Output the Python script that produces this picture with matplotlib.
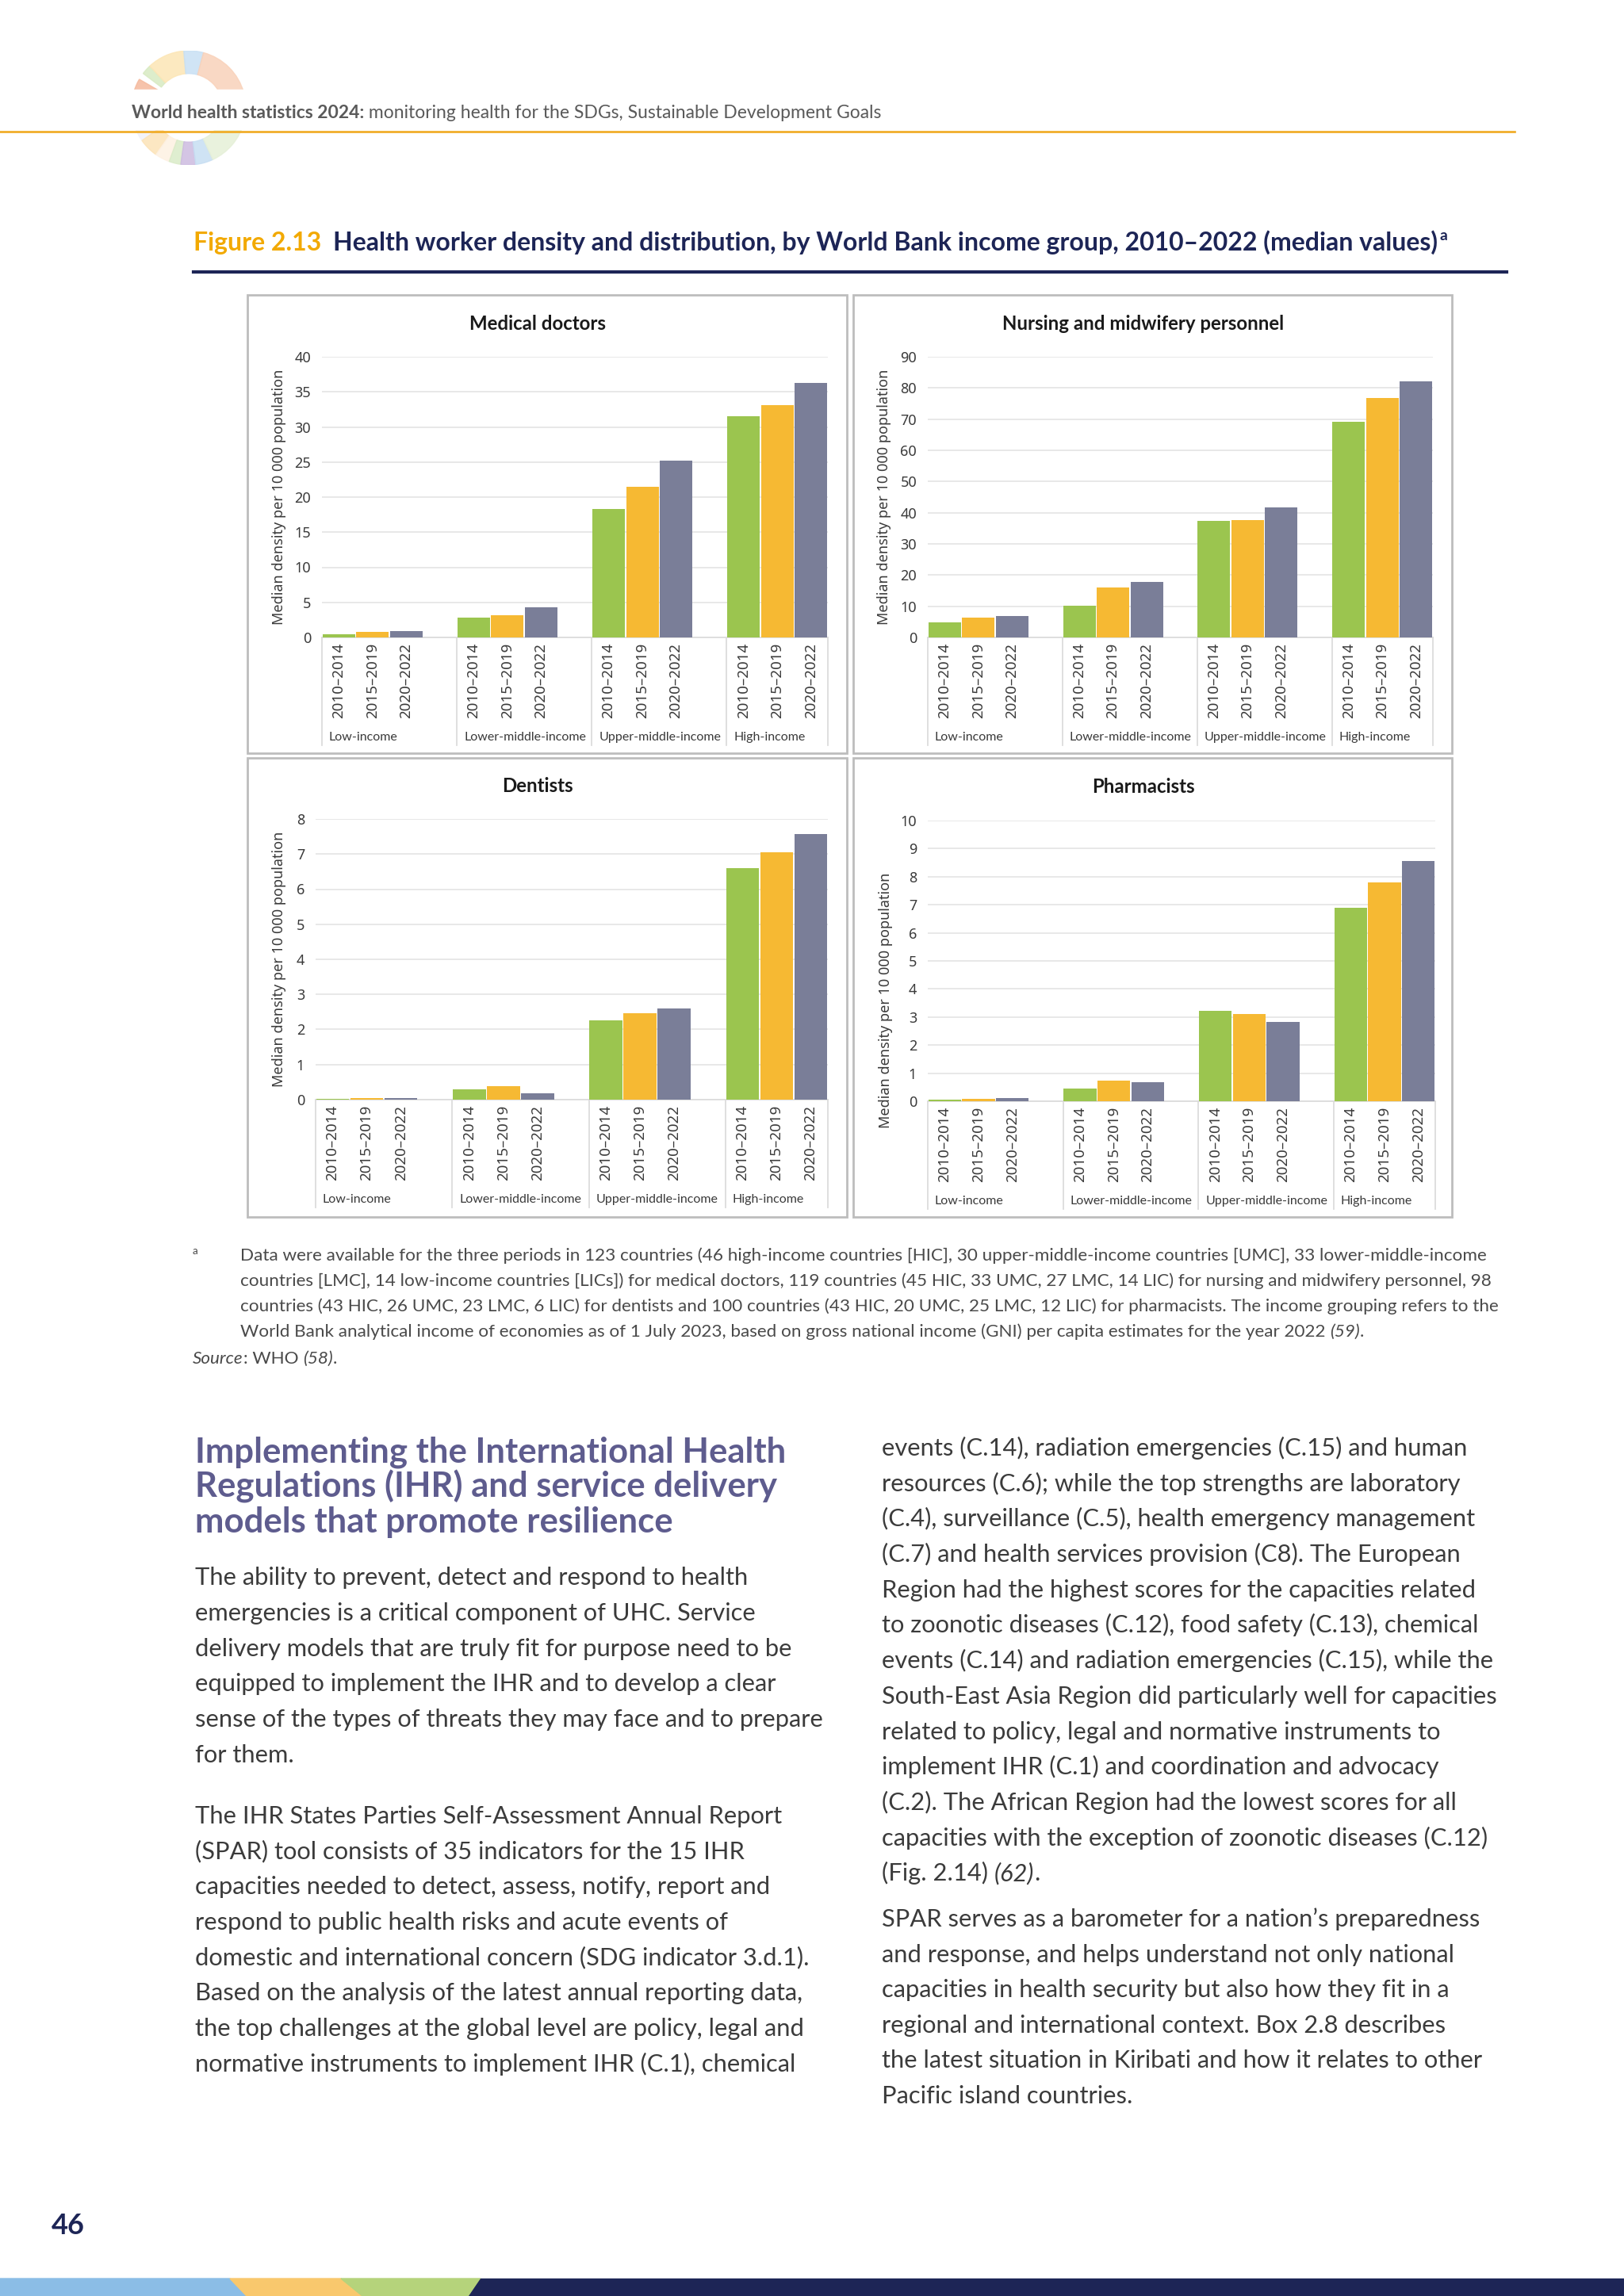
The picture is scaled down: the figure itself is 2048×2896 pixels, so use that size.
import numpy as np
import matplotlib.pyplot as plt
import matplotlib.transforms as mtransforms
from matplotlib.patches import Rectangle, Wedge, Polygon
from matplotlib.lines import Line2D

plt.rcParams["font.family"] = ["Lato", "DejaVu Sans"]
plt.rcParams["xtick.labelsize"] = 13.5
plt.rcParams["ytick.labelsize"] = 13

W, H = 2048, 2896

# ---- chart data (median density per 10 000 population) ----
periods = ["2010–2014", "2015–2019", "2020–2022"]
groups = ["Low-income", "Lower-middle-income", "Upper-middle-income", "High-income"]
period_colors = ["#9BC54F", "#F6B933", "#7A7E98"]

doctors_2010_2014 = [0.43, 2.8, 18.25, 31.5]
doctors_2015_2019 = [0.74, 3.15, 21.5, 33.1]
doctors_2020_2022 = [0.91, 4.3, 25.2, 36.3]

nurses_2010_2014 = [4.9, 10.2, 37.5, 69.1]
nurses_2015_2019 = [6.3, 16.0, 37.6, 76.8]
nurses_2020_2022 = [6.8, 17.7, 41.6, 82.2]

dentists_2010_2014 = [0.02, 0.30, 2.26, 6.6]
dentists_2015_2019 = [0.05, 0.39, 2.47, 7.06]
dentists_2020_2022 = [0.035, 0.19, 2.6, 7.58]

pharmacists_2010_2014 = [0.05, 0.45, 3.22, 6.9]
pharmacists_2015_2019 = [0.08, 0.73, 3.10, 7.79]
pharmacists_2020_2022 = [0.11, 0.69, 2.83, 8.56]

ylabel = "Median density per 10 000 population"

# ---- page text ----
header_bold = "World health statistics 2024:"
header_rest = " monitoring health for the SDGs, Sustainable Development Goals"
fig_label = "Figure 2.13"
fig_title = "Health worker density and distribution, by World Bank income group, 2010–2022 (median values)"

foot_lines = [
    "Data were available for the three periods in 123 countries (46 high-income countries [HIC], 30 upper-middle-income countries [UMC], 33 lower-middle-income",
    "countries [LMC], 14 low-income countries [LICs]) for medical doctors, 119 countries (45 HIC, 33 UMC, 27 LMC, 14 LIC) for nursing and midwifery personnel, 98",
    "countries (43 HIC, 26 UMC, 23 LMC, 6 LIC) for dentists and 100 countries (43 HIC, 20 UMC, 25 LMC, 12 LIC) for pharmacists. The income grouping refers to the",
    [("World Bank analytical income of economies as of 1 July 2023, based on gross national income (GNI) per capita estimates for the year 2022 ", {}),
     ("(59)", {"style": "italic"}), (".", {})],
]
source_line = [("Source", {"style": "italic"}), (": WHO ", {}), ("(58)", {"style": "italic"}), (".", {})]

heading_lines = ["Implementing the International Health",
                 "Regulations (IHR) and service delivery",
                 "models that promote resilience"]
left_para1 = ["The ability to prevent, detect and respond to health",
              "emergencies is a critical component of UHC. Service",
              "delivery models that are truly fit for purpose need to be",
              "equipped to implement the IHR and to develop a clear",
              "sense of the types of threats they may face and to prepare",
              "for them."]
left_para2 = ["The IHR States Parties Self-Assessment Annual Report",
              "(SPAR) tool consists of 35 indicators for the 15 IHR",
              "capacities needed to detect, assess, notify, report and",
              "respond to public health risks and acute events of",
              "domestic and international concern (SDG indicator 3.d.1).",
              "Based on the analysis of the latest annual reporting data,",
              "the top challenges at the global level are policy, legal and",
              "normative instruments to implement IHR (C.1), chemical"]
right_para1 = ["events (C.14), radiation emergencies (C.15) and human",
               "resources (C.6); while the top strengths are laboratory",
               "(C.4), surveillance (C.5), health emergency management",
               "(C.7) and health services provision (C8). The European",
               "Region had the highest scores for the capacities related",
               "to zoonotic diseases (C.12), food safety (C.13), chemical",
               "events (C.14) and radiation emergencies (C.15), while the",
               "South-East Asia Region did particularly well for capacities",
               "related to policy, legal and normative instruments to",
               "implement IHR (C.1) and coordination and advocacy",
               "(C.2). The African Region had the lowest scores for all",
               "capacities with the exception of zoonotic diseases (C.12)",
               [("(Fig. 2.14) ", {}), ("(62)", {"style": "italic"}), (".", {})]]
right_para2 = ["SPAR serves as a barometer for a nation’s preparedness",
               "and response, and helps understand not only national",
               "capacities in health security but also how they fit in a",
               "regional and international context. Box 2.8 describes",
               "the latest situation in Kiribati and how it relates to other",
               "Pacific island countries."]

navy = "#1D2556"
orange = "#F2A900"

fig = plt.figure(figsize=(W / 100, H / 100), dpi=100)
renderer = fig.canvas.get_renderer()


def fx(x):
    return x / W


def fy(y):
    return 1 - y / H


def text_width(s, **kw):
    # advance width in pixels, trailing spaces included
    t = fig.text(0, 0, s + "|", **kw)
    ref = fig.text(0, 0, "|", **kw)
    w = t.get_window_extent(renderer).width - ref.get_window_extent(renderer).width
    t.remove()
    ref.remove()
    return w


def put_line(x, y, parts, **kw):
    if isinstance(parts, str):
        parts = [(parts, {})]
    for s, style in parts:
        props = {**kw, **style}
        fig.text(fx(x), fy(y), s, ha="left", va="baseline", **props)
        x += text_width(s, **props)


def put_block(x, y0, dy, lines, **kw):
    for i, line in enumerate(lines):
        put_line(x, y0 + i * dy, line, **kw)


# ---- header wheel + running title ----
ax_w = fig.add_axes([fx(166), fy(208), 144 / W, 144 / H])
ax_w.set_xlim(-1, 1)
ax_w.set_ylim(-1, 1)
ax_w.axis("off")
wheel = [(165, 173, "#BDBDBD"), (150, 165, "#F5B99C"), (133, 143, "#D8EAC2"),
         (95, 133, "#FCE6B5"), (75, 95, "#C8E0F4"), (15, 75, "#F9D2BA"),
         (188, 200, "#E9A5BE"), (200, 215, "#F1F2F8"), (215, 235, "#FCE3B8"),
         (235, 250, "#FDF1E2"), (250, 262, "#DAEBC8"), (262, 277, "#CDBBE0"),
         (277, 295, "#C7DEF3"), (295, 345, "#E6F0D8")]
for t1, t2, c in wheel:
    ax_w.add_patch(Wedge((0, 0), 1.0, t1, t2, width=0.4, color=c, alpha=0.85))
fig.add_artist(Rectangle((fx(150), fy(163)), 200 / W, 50 / H, transform=fig.transFigure,
                         color="white", zorder=5))

w20 = text_width(header_bold, fontsize=20, weight="bold") + text_width(header_rest, fontsize=20)
hs = 20 * 947 / w20
put_line(166, 149, [(header_bold, {"weight": "bold"}), (header_rest, {})],
         fontsize=hs, color="#5A5A5A", zorder=6)
fig.add_artist(Line2D([0, fx(1910)], [fy(166), fy(166)], color="#F0AA22", lw=1.9,
                      transform=fig.transFigure, zorder=6))

# ---- figure title ----
ts = 20 * 1395 / text_width(fig_title, fontsize=20, weight="bold")
fig.text(fx(244), fy(316), fig_label, fontsize=ts, weight="bold", color=orange, va="baseline")
fig.text(fx(420), fy(316), fig_title, fontsize=ts, weight="bold", color=navy, va="baseline")
tw = text_width(fig_title, fontsize=ts, weight="bold")
fig.text(fx(420 + tw + 2), fy(316 - 13), "a", fontsize=ts * 0.6, weight="bold", color=navy, va="baseline")
fig.add_artist(Line2D([fx(244), fx(1900)], [fy(343), fy(343)], color=navy, lw=3.0,
                      transform=fig.transFigure))

# ---- the four panels ----
panel_specs = [
    ("Medical doctors", [doctors_2010_2014, doctors_2015_2019, doctors_2020_2022], 40, 5,
     (406, 450, 1044, 804), (312, 372, 1068, 950), (352, 627)),
    ("Nursing and midwifery personnel", [nurses_2010_2014, nurses_2015_2019, nurses_2020_2022], 90, 10,
     (1170, 450, 1807, 804), (1076, 372, 1831, 950), (1115, 627)),
    ("Dentists", [dentists_2010_2014, dentists_2015_2019, dentists_2020_2022], 8, 1,
     (398, 1033, 1044, 1387), (312, 956, 1068, 1535), (352, 1210)),
    ("Pharmacists", [pharmacists_2010_2014, pharmacists_2015_2019, pharmacists_2020_2022], 10, 1,
     (1170, 1035, 1810, 1389), (1076, 956, 1831, 1535), (1117, 1262)),
]

title_size = 20 * 354 / text_width("Nursing and midwifery personnel", fontsize=20, weight="bold")
group_size = 20 * 155 / text_width("Lower-middle-income", fontsize=20)
xtick_size = 13.5
ytick_size = 13
grey_txt = "#3A3A3A"
line_grey = "#DCDCDC"
n_slots = len(groups) * 4 - 1

for title, series, ymax, step, (l, t, r, b), (fl, ft, fr, fb), (lx, ly) in panel_specs:
    fig.add_artist(Rectangle((fx(fl), fy(fb)), (fr - fl) / W, (fb - ft) / H, transform=fig.transFigure,
                             fill=False, edgecolor="#BDBDBD", lw=2.0))
    ax = fig.add_axes([fx(l), fy(b), (r - l) / W, (b - t) / H])
    ax.patch.set_alpha(0)
    for p, vals in enumerate(series):
        xs = np.arange(len(groups)) * 4 + p + 0.5
        ax.bar(xs, vals, width=0.965, color=period_colors[p], linewidth=0, zorder=3)
    ax.set_xlim(0, n_slots)
    ax.set_ylim(0, ymax)
    ax.set_yticks(np.arange(0, ymax + step / 2, step))
    ax.yaxis.grid(True, color="#E6E6E6", lw=1.3)
    ax.set_axisbelow(True)
    for side in ["left", "right", "top"]:
        ax.spines[side].set_visible(False)
    ax.spines["bottom"].set_color(line_grey)
    ax.spines["bottom"].set_linewidth(1.3)

    ax.set_xticks([g * 4 + p + 0.5 for g in range(len(groups)) for p in range(len(periods))])
    ax.set_xticklabels(periods * len(groups))
    ax.tick_params(axis="x", length=0, pad=5, labelrotation=90, labelsize=xtick_size,
                   labelcolor=grey_txt, labelfontfamily="Noto Sans")
    ax.tick_params(axis="y", length=0, pad=10, labelsize=ytick_size, labelcolor=grey_txt,
                   labelfontfamily="Noto Sans")

    trans = mtransforms.blended_transform_factory(ax.transData, ax.transAxes)
    depth = 136 / (b - t)
    for xb in [g * 4 for g in range(len(groups))] + [n_slots]:
        ax.add_line(Line2D([xb, xb], [0, -depth], transform=trans, clip_on=False,
                           color=line_grey, lw=1.3))
    dx = 9 * n_slots / (r - l)
    for g, name in enumerate(groups):
        ax.text(g * 4 + dx, -126 / (b - t), name, transform=trans, ha="left", va="center",
                fontsize=group_size, color=grey_txt)

    fig.text(fx((fl + fr) / 2 - 12), fy(t - 42), title, ha="center", va="center",
             fontsize=title_size, weight="bold", color="#1A1A1A")
    fig.text(fx(lx), fy(ly), ylabel, rotation=90, ha="center", va="center",
             family="Noto Sans", fontsize=13, color=grey_txt)

# ---- footnote ----
fs = 20 * 1573 / text_width(foot_lines[0], fontsize=20)
fig.text(fx(243), fy(1582), "a", fontsize=fs * 0.6, color="#4A4A4A", va="baseline")
put_block(303, 1590, 32, foot_lines, fontsize=fs, color="#4A4A4A")
put_line(243, 1720, source_line, fontsize=fs, color="#4A4A4A")

# ---- body text ----
hsz = 20 * 743 / text_width(heading_lines[0], fontsize=20, weight="bold")
put_block(246, 1845, 44, heading_lines, fontsize=hsz, weight="bold", color="#5E5C8E")
bs = 20 * 699 / text_width(left_para1[0], fontsize=20)
body = dict(fontsize=bs, color="#3B3B3B")
put_block(246, 1999, 44.8, left_para1, **body)
put_block(246, 2300, 44.7, left_para2, **body)
put_block(1112, 1836, 44.7, right_para1, **body)
put_block(1112, 2430, 44.6, right_para2, **body)

# ---- page number and footer band ----
fig.text(fx(65), fy(2818), "46", fontsize=26, weight="bold", color=navy, va="baseline")
footer = [("#8BBDE6", [(0, 2874), (290, 2874), (311, 2896), (0, 2896)]),
          ("#F9C86D", [(290, 2874), (430, 2874), (457, 2896), (311, 2896)]),
          ("#B5D37B", [(430, 2874), (606, 2874), (591, 2896), (457, 2896)]),
          (navy, [(606, 2874), (2048, 2874), (2048, 2896), (591, 2896)])]
for c, pts in footer:
    fig.add_artist(Polygon([(fx(x), fy(y)) for x, y in pts], closed=True, color=c,
                           transform=fig.transFigure))

fig.savefig("out.png", dpi=100)
